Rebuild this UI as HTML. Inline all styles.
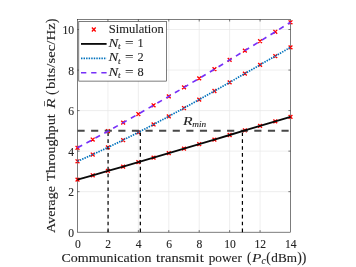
<!DOCTYPE html><html><head><meta charset="utf-8"><title>Average Throughput</title>
<style>html,body{margin:0;padding:0;background:#fff;overflow:hidden}svg{display:block}text{font-family:"Liberation Serif","DejaVu Serif",serif;fill:#222;stroke:#222;stroke-width:0.1px}</style></head><body>
<svg width="356" height="267" viewBox="0 0 356 267">
<rect width="356" height="267" fill="#fff"/>
<g stroke="#e6e6e6" stroke-width="0.7" fill="none">
<line x1="107.93" y1="19.4" x2="107.93" y2="232.2"/>
<line x1="138.36" y1="19.4" x2="138.36" y2="232.2"/>
<line x1="168.79" y1="19.4" x2="168.79" y2="232.2"/>
<line x1="199.21" y1="19.4" x2="199.21" y2="232.2"/>
<line x1="229.64" y1="19.4" x2="229.64" y2="232.2"/>
<line x1="260.07" y1="19.4" x2="260.07" y2="232.2"/>
<line x1="77.5" y1="191.67" x2="290.5" y2="191.67"/>
<line x1="77.5" y1="151.13" x2="290.5" y2="151.13"/>
<line x1="77.5" y1="110.60" x2="290.5" y2="110.60"/>
<line x1="77.5" y1="70.07" x2="290.5" y2="70.07"/>
<line x1="77.5" y1="29.53" x2="290.5" y2="29.53"/>
</g>
<g stroke="#262626" stroke-width="0.6" fill="none"><rect x="77.5" y="19.4" width="213.00" height="212.80"/>
<line x1="107.93" y1="232.2" x2="107.93" y2="230.1"/><line x1="107.93" y1="19.4" x2="107.93" y2="21.5"/>
<line x1="138.36" y1="232.2" x2="138.36" y2="230.1"/><line x1="138.36" y1="19.4" x2="138.36" y2="21.5"/>
<line x1="168.79" y1="232.2" x2="168.79" y2="230.1"/><line x1="168.79" y1="19.4" x2="168.79" y2="21.5"/>
<line x1="199.21" y1="232.2" x2="199.21" y2="230.1"/><line x1="199.21" y1="19.4" x2="199.21" y2="21.5"/>
<line x1="229.64" y1="232.2" x2="229.64" y2="230.1"/><line x1="229.64" y1="19.4" x2="229.64" y2="21.5"/>
<line x1="260.07" y1="232.2" x2="260.07" y2="230.1"/><line x1="260.07" y1="19.4" x2="260.07" y2="21.5"/>
<line x1="77.5" y1="191.67" x2="79.6" y2="191.67"/><line x1="290.5" y1="191.67" x2="288.4" y2="191.67"/>
<line x1="77.5" y1="151.13" x2="79.6" y2="151.13"/><line x1="290.5" y1="151.13" x2="288.4" y2="151.13"/>
<line x1="77.5" y1="110.60" x2="79.6" y2="110.60"/><line x1="290.5" y1="110.60" x2="288.4" y2="110.60"/>
<line x1="77.5" y1="70.07" x2="79.6" y2="70.07"/><line x1="290.5" y1="70.07" x2="288.4" y2="70.07"/>
<line x1="77.5" y1="29.53" x2="79.6" y2="29.53"/><line x1="290.5" y1="29.53" x2="288.4" y2="29.53"/>
</g>
<path d="M75.60,177.65L79.40,181.45M75.60,181.45L79.40,177.65M90.81,173.37L94.61,177.17M90.81,177.17L94.61,173.37M106.03,169.04L109.83,172.84M106.03,172.84L109.83,169.04M121.24,164.66L125.04,168.46M121.24,168.46L125.04,164.66M136.46,160.24L140.26,164.04M136.46,164.04L140.26,160.24M151.67,155.77L155.47,159.57M151.67,159.57L155.47,155.77M166.89,151.28L170.69,155.08M166.89,155.08L170.69,151.28M182.10,146.76L185.90,150.56M182.10,150.56L185.90,146.76M197.31,142.22L201.11,146.02M197.31,146.02L201.11,142.22M212.53,137.66L216.33,141.46M212.53,141.46L216.33,137.66M227.74,133.10L231.54,136.90M227.74,136.90L231.54,133.10M242.96,128.54L246.76,132.34M242.96,132.34L246.76,128.54M258.17,123.98L261.97,127.78M258.17,127.78L261.97,123.98M273.39,119.43L277.19,123.23M273.39,123.23L277.19,119.43M288.60,114.90L292.40,118.70M288.60,118.70L292.40,114.90M75.60,159.39L79.40,163.19M75.60,163.19L79.40,159.39M90.81,152.64L94.61,156.44M90.81,156.44L94.61,152.64M106.03,145.55L109.83,149.35M106.03,149.35L109.83,145.55M121.24,138.16L125.04,141.96M121.24,141.96L125.04,138.16M136.46,130.49L140.26,134.29M136.46,134.29L140.26,130.49M151.67,122.58L155.47,126.38M151.67,126.38L155.47,122.58M166.89,114.45L170.69,118.25M166.89,118.25L170.69,114.45M182.10,106.14L185.90,109.94M182.10,109.94L185.90,106.14M197.31,97.68L201.11,101.48M197.31,101.48L201.11,97.68M212.53,89.10L216.33,92.90M212.53,92.90L216.33,89.10M227.74,80.43L231.54,84.23M227.74,84.23L231.54,80.43M242.96,71.69L246.76,75.49M242.96,75.49L246.76,71.69M258.17,62.92L261.97,66.72M258.17,66.72L261.97,62.92M273.39,54.15L277.19,57.95M273.39,57.95L277.19,54.15M288.60,45.42L292.40,49.22M288.60,49.22L292.40,45.42M75.60,145.87L79.40,149.67M75.60,149.67L79.40,145.87M90.81,137.64L94.61,141.44M90.81,141.44L94.61,137.64M106.03,129.26L109.83,133.06M106.03,133.06L109.83,129.26M121.24,120.76L125.04,124.56M121.24,124.56L125.04,120.76M136.46,112.12L140.26,115.92M136.46,115.92L140.26,112.12M151.67,103.37L155.47,107.17M151.67,107.17L155.47,103.37M166.89,94.50L170.69,98.30M166.89,98.30L170.69,94.50M182.10,85.53L185.90,89.33M182.10,89.33L185.90,85.53M197.31,76.46L201.11,80.26M197.31,80.26L201.11,76.46M212.53,67.29L216.33,71.09M212.53,71.09L216.33,67.29M227.74,58.05L231.54,61.85M227.74,61.85L231.54,58.05M242.96,48.72L246.76,52.52M242.96,52.52L246.76,48.72M258.17,39.33L261.97,43.13M258.17,43.13L261.97,39.33M273.39,29.88L277.19,33.68M273.39,33.68L277.19,29.88M288.60,20.37L292.40,24.17M288.60,24.17L292.40,20.37" stroke="#ff0000" stroke-width="1.35" fill="none"/>
<g stroke="#000" stroke-width="1.2" fill="none" stroke-dasharray="3.6 3.27">
<line x1="108.08" y1="232.2" x2="108.08" y2="130.87"/>
<line x1="140.33" y1="232.2" x2="140.33" y2="130.87"/>
<line x1="242.42" y1="232.2" x2="242.42" y2="130.87"/>
</g>
<line x1="77.5" y1="130.87" x2="290.5" y2="130.87" stroke="#484848" stroke-width="2" stroke-dasharray="7.15 6.45"/>
<polyline points="77.50,179.55 92.71,175.27 107.93,170.94 123.14,166.56 138.36,162.14 153.57,157.67 168.79,153.18 184.00,148.66 199.21,144.12 214.43,139.56 229.64,135.00 244.86,130.44 260.07,125.88 275.29,121.33 290.50,116.80" fill="none" stroke="#0a0a0a" stroke-width="1.85"/>
<polyline points="77.50,161.29 92.71,154.54 107.93,147.45 123.14,140.06 138.36,132.39 153.57,124.48 168.79,116.35 184.00,108.04 199.21,99.58 214.43,91.00 229.64,82.33 244.86,73.59 260.07,64.82 275.29,56.05 290.50,47.32" fill="none" stroke="#0072bd" stroke-width="1.7" stroke-dasharray="1.45 1.1"/>
<polyline points="77.50,147.77 92.71,139.54 107.93,131.16 123.14,122.66 138.36,114.02 153.57,105.27 168.79,96.40 184.00,87.43 199.21,78.36 214.43,69.19 229.64,59.95 244.86,50.62 260.07,41.23 275.29,31.78 290.50,22.27" fill="none" stroke="#7630f8" stroke-width="1.65" stroke-dasharray="5.3 4.87"/>
<g font-size="12.2" stroke="none">
<text x="74.90" y="247.9" textLength="5.8" lengthAdjust="spacingAndGlyphs">0</text>
<text x="105.33" y="247.9" textLength="5.8" lengthAdjust="spacingAndGlyphs">2</text>
<text x="135.76" y="247.9" textLength="5.8" lengthAdjust="spacingAndGlyphs">4</text>
<text x="166.19" y="247.9" textLength="5.8" lengthAdjust="spacingAndGlyphs">6</text>
<text x="196.61" y="247.9" textLength="5.8" lengthAdjust="spacingAndGlyphs">8</text>
<text x="224.14" y="247.9" textLength="11.6" lengthAdjust="spacingAndGlyphs">10</text>
<text x="254.57" y="247.9" textLength="11.6" lengthAdjust="spacingAndGlyphs">12</text>
<text x="285.00" y="247.9" textLength="11.6" lengthAdjust="spacingAndGlyphs">14</text>
<text x="68.20" y="236.70" textLength="5.8" lengthAdjust="spacingAndGlyphs">0</text>
<text x="68.20" y="196.17" textLength="5.8" lengthAdjust="spacingAndGlyphs">2</text>
<text x="68.20" y="155.63" textLength="5.8" lengthAdjust="spacingAndGlyphs">4</text>
<text x="68.20" y="115.10" textLength="5.8" lengthAdjust="spacingAndGlyphs">6</text>
<text x="68.20" y="74.57" textLength="5.8" lengthAdjust="spacingAndGlyphs">8</text>
<text x="62.40" y="34.03" textLength="11.6" lengthAdjust="spacingAndGlyphs">10</text>
</g>
<text x="61.5" y="262.0" font-size="12.5" textLength="90.0" lengthAdjust="spacingAndGlyphs">Communication</text>
<text x="156.1" y="262.0" font-size="12.5" textLength="47.6" lengthAdjust="spacingAndGlyphs">transmit</text>
<text x="208.7" y="262.0" font-size="12.5" textLength="33.2" lengthAdjust="spacingAndGlyphs">power</text>
<text x="246.9" y="262.3" font-size="14.2" textLength="4.4" lengthAdjust="spacingAndGlyphs">(</text>
<text x="251.9" y="262.0" font-size="12.5" textLength="9.4" lengthAdjust="spacingAndGlyphs" font-style="italic">P</text>
<text x="261.5" y="264.0" font-size="9.5" font-style="italic">c</text>
<text x="266.2" y="262.3" font-size="14.2" textLength="4.4" lengthAdjust="spacingAndGlyphs">(</text>
<text x="271.3" y="262.0" font-size="12.5" textLength="25.6" lengthAdjust="spacingAndGlyphs">dBm</text>
<text x="297.2" y="262.3" font-size="14.2" textLength="9.2" lengthAdjust="spacingAndGlyphs">))</text>
<g transform="translate(55.2,232) rotate(-90)">
<text x="-0.9" y="0.0" font-size="12.5" textLength="46.9" lengthAdjust="spacingAndGlyphs">Average</text>
<text x="50.7" y="0.0" font-size="12.5" textLength="67.1" lengthAdjust="spacingAndGlyphs">Throughput</text>
<text x="123.4" y="0.0" font-size="12.5" textLength="10.0" lengthAdjust="spacingAndGlyphs" font-style="italic">R</text>
<line x1="125.8" y1="-10.7" x2="130.9" y2="-10.7" stroke="#262626" stroke-width="0.7"/>
<text x="137.3" y="0.3" font-size="14.2" textLength="4.4" lengthAdjust="spacingAndGlyphs">(</text>
<text x="142.9" y="0.0" font-size="12.5" textLength="65.9" lengthAdjust="spacingAndGlyphs">bits/sec/Hz</text>
<text x="208.9" y="0.3" font-size="14.2" textLength="4.4" lengthAdjust="spacingAndGlyphs">)</text>
</g>
<text x="182.9" y="125.0" font-size="12.5" font-style="italic" textLength="9.6" lengthAdjust="spacingAndGlyphs">R</text>
<text x="192.3" y="126.8" font-size="9" font-style="italic" textLength="13.9" lengthAdjust="spacingAndGlyphs">min</text>
<rect x="78.8" y="21.4" width="87.50" height="59.70" fill="#fff" stroke="#262626" stroke-width="0.6"/>
<path d="M91.90,27.60L95.70,31.40M91.90,31.40L95.70,27.60" stroke="#ff0000" stroke-width="1.35" fill="none"/>
<line x1="81.0" y1="43.9" x2="106.6" y2="43.9" stroke="#0a0a0a" stroke-width="1.85"/>
<line x1="81.0" y1="58.3" x2="106.6" y2="58.3" stroke="#0072bd" stroke-width="1.7" stroke-dasharray="1.45 1.1"/>
<line x1="81.0" y1="72.7" x2="106.6" y2="72.7" stroke="#7630f8" stroke-width="1.65" stroke-dasharray="5.3 4.87"/>
<text x="108.8" y="32.7" font-size="12.3" textLength="55" lengthAdjust="spacingAndGlyphs">Simulation</text>
<text x="108.6" y="47.0" font-size="12.3" font-style="italic" textLength="9.8" lengthAdjust="spacingAndGlyphs">N</text>
<text x="117.9" y="49.2" font-size="9" font-style="italic">t</text>
<text x="125.0" y="47.0" font-size="12.3" textLength="8.6" lengthAdjust="spacingAndGlyphs">=</text>
<text x="137.6" y="47.0" font-size="12.3">1</text>
<text x="108.6" y="61.4" font-size="12.3" font-style="italic" textLength="9.8" lengthAdjust="spacingAndGlyphs">N</text>
<text x="117.9" y="63.6" font-size="9" font-style="italic">t</text>
<text x="125.0" y="61.4" font-size="12.3" textLength="8.6" lengthAdjust="spacingAndGlyphs">=</text>
<text x="137.6" y="61.4" font-size="12.3">2</text>
<text x="108.6" y="75.8" font-size="12.3" font-style="italic" textLength="9.8" lengthAdjust="spacingAndGlyphs">N</text>
<text x="117.9" y="78.0" font-size="9" font-style="italic">t</text>
<text x="125.0" y="75.8" font-size="12.3" textLength="8.6" lengthAdjust="spacingAndGlyphs">=</text>
<text x="137.6" y="75.8" font-size="12.3">8</text>
</svg></body></html>
